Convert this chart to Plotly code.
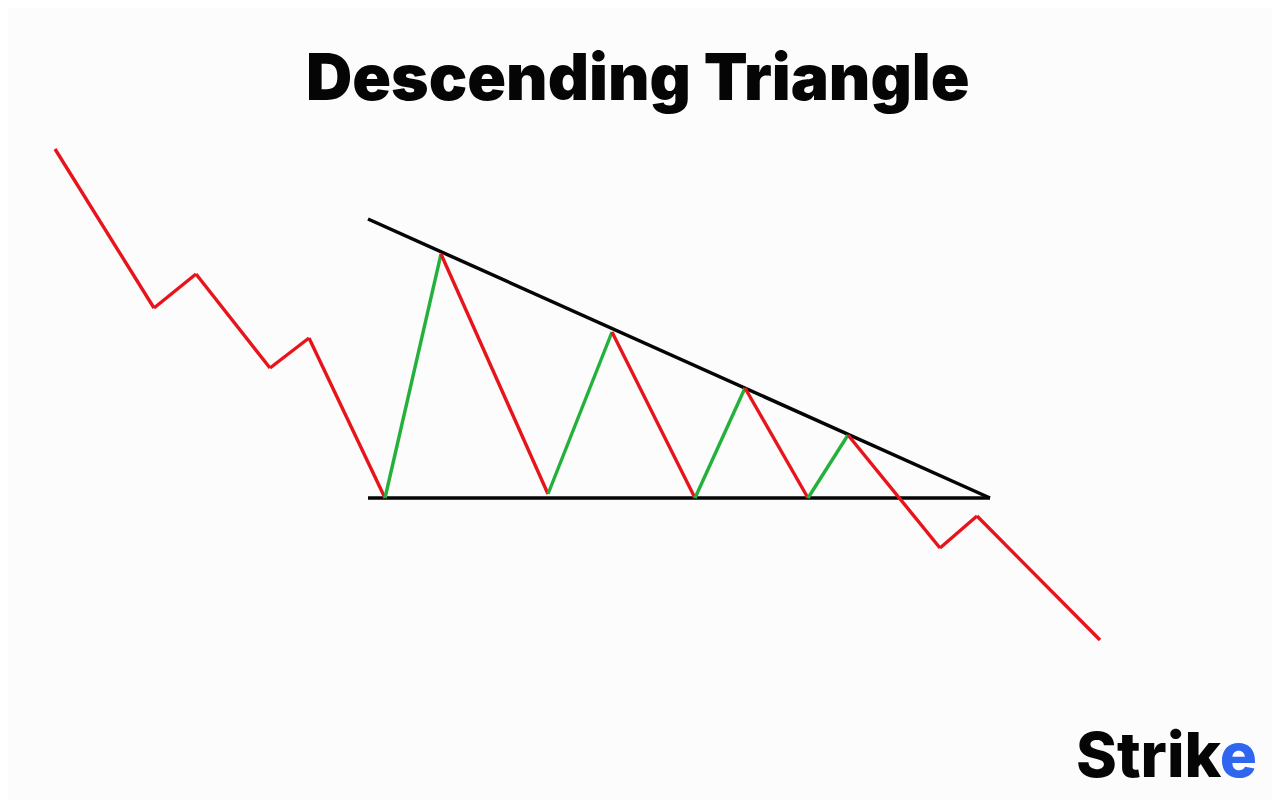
import plotly.graph_objects as go

# Price path (pixel-space coordinates)
price_x = [55, 154, 196, 270, 309, 385, 441, 548, 612, 695, 745, 808, 848, 940, 977, 1100]
price_y = [149, 308, 274, 368, 338, 498, 254, 494, 332, 498, 388, 498, 435, 548, 516, 640]
# colour of each segment: red for falling legs / trend, green for rallies inside the pattern
seg_color_key = ["r", "r", "r", "r", "r", "g", "r", "g", "r", "g", "r", "g", "r", "r", "r"]

resist_x = [368, 990]
resist_y = [219, 498]
support_x = [368, 990]
support_y = [498, 498]

title_text = "Descending Triangle"

RED = "#e8141c"
GREEN = "#23b13b"

fig = go.Figure()

for xs, ys in [(resist_x, resist_y), (support_x, support_y)]:
    fig.add_trace(go.Scatter(x=xs, y=ys, mode="lines",
                             line=dict(color="#050505", width=3.5),
                             hoverinfo="skip", showlegend=False))

for i in range(len(price_x) - 1):
    col = RED if seg_color_key[i] == "r" else GREEN
    fig.add_trace(go.Scatter(x=price_x[i:i + 2], y=price_y[i:i + 2], mode="lines",
                             line=dict(color=col, width=3.4),
                             hoverinfo="skip", showlegend=False))

fig.add_annotation(x=638, y=76, xref="x", yref="y", text=title_text, showarrow=False,
                   font=dict(family="Inter", size=64, color="#050505", weight=900))

fig.add_annotation(x=1166, y=754, xref="x", yref="y",
                   text="Strik<span style='color:#2f66f0'>e</span>", showarrow=False,
                   font=dict(family="Inter", size=62, color="#050505", weight=800))

# page body has an 8px margin, so the axes start at 8
fig.update_xaxes(range=[8, 1288], visible=False, fixedrange=True)
fig.update_yaxes(range=[808, 8], visible=False, fixedrange=True)
fig.update_layout(width=1280, height=800, margin=dict(l=0, r=0, t=0, b=0),
                  paper_bgcolor="#fcfcfc", plot_bgcolor="#fcfcfc")

fig.write_html("out.html")
